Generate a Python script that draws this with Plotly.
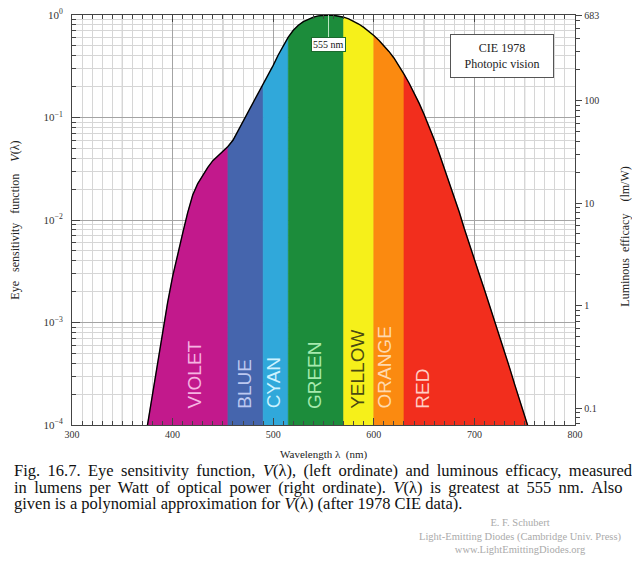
import math
import plotly.graph_objects as go

# ---------------- data ----------------
WAVELENGTH = [370, 375, 380, 385, 390, 395, 400, 405, 410, 415, 420, 425, 430, 435, 440, 445,
              450, 455, 460, 465, 470, 475, 480, 485, 490, 495, 500, 505, 510, 515, 520, 525,
              530, 535, 540, 545, 550, 555, 560, 565, 570, 575, 580, 585, 590, 595, 600, 605,
              610, 615, 620, 625, 630, 635, 640, 645, 650, 655, 660, 665, 670, 675, 680, 685,
              690, 695, 700, 705, 710, 715, 720, 725, 730, 735, 740, 745, 750, 755, 760]
V_LAMBDA = [0.00005, 0.0001, 0.0002, 0.000396, 0.0008, 0.00155, 0.0028, 0.00466, 0.0074, 0.0118,
            0.0175, 0.0227, 0.0273, 0.0326, 0.0379, 0.0424, 0.0468, 0.0521, 0.060, 0.0739,
            0.091, 0.1126, 0.139, 0.1693, 0.208, 0.2586, 0.323, 0.4073, 0.503, 0.6082,
            0.71, 0.7932, 0.862, 0.9149, 0.954, 0.9803, 0.995, 1.0, 0.995, 0.9786,
            0.952, 0.9154, 0.87, 0.8163, 0.757, 0.6949, 0.631, 0.5668, 0.503, 0.4412,
            0.381, 0.321, 0.265, 0.217, 0.175, 0.1382, 0.107, 0.0816, 0.061, 0.04458,
            0.032, 0.0232, 0.017, 0.01192, 0.00821, 0.005723, 0.004102, 0.002929, 0.002091, 0.001484,
            0.001047, 0.00074, 0.00052, 0.000361, 0.000249, 0.000172, 0.00012, 0.0000848, 0.00006]
PEAK_EFFICACY = 683  # lm/W

BAND_NAMES = ["VIOLET", "BLUE", "CYAN", "GREEN", "YELLOW", "ORANGE", "RED"]
BAND_EDGES = [370, 455, 490, 515, 570, 600, 630, 760]

X_TICKS = [300, 400, 500, 600, 700, 800]
X_TICK_LABELS = ["300", "400", "500", "600", "700", "800"]
X_HALF_GRID = [350, 450, 550, 650, 750]
Y_TICKS = [1e-4, 1e-3, 1e-2, 1e-1, 1]
Y_TICK_LABELS = ["10<sup>\u22124</sup>", "10<sup>\u22123</sup>", "10<sup>\u22122</sup>",
                 "10<sup>\u22121</sup>", "10<sup>0</sup>"]
Y2_TICKS = [0.1, 1, 10, 100, 683]
Y2_TICK_LABELS = ["0.1", "1", "10", "100", "683"]

CAPTION = [
    "Fig. 16.7. Eye sensitivity function, <i>V</i>(λ), (left ordinate) and luminous efficacy, measured",
    "in lumens per Watt of optical power (right ordinate). <i>V</i>(λ) is greatest at 555 nm. Also",
    "given is a polynomial approximation for <i>V</i>(λ) (after 1978 CIE data).",
]
WATERMARK = ["E. F. Schubert", "Light-Emitting Diodes (Cambridge Univ. Press)",
             "www.LightEmittingDiodes.org"]

# ---------------- styles ----------------
BAND_COLORS = ["#C2198C", "#4565AD", "#30A8DA", "#1C8C3B", "#F6F01A", "#FB8A10", "#F22E1D"]
LABEL_COLORS = ["#F6B4E2", "#BCC8F0", "#CDF2FF", "#A6EAAE", "#4A4A12", "#FFD9AE", "#FFCDC4"]
LABEL_X = [422, 472, 500, 541, 583, 611, 649]

SERIF = "Liberation Serif"
SANS = "Liberation Sans"
AXIS_COLOR = "#444444"
MAJOR_GRID = "#a4a4a4"
MINOR_GRID = "#d6d6d6"

fig = go.Figure()

# coloured bands under the curve
for name, color, a, b in zip(BAND_NAMES, BAND_COLORS, BAND_EDGES[:-1], BAND_EDGES[1:]):
    pts = [(w, v) for w, v in zip(WAVELENGTH, V_LAMBDA) if a <= w <= b]
    xs = [a] + [p[0] for p in pts] + [b]
    ys = [1e-6] + [p[1] for p in pts] + [1e-6]
    fig.add_trace(go.Scatter(x=xs, y=ys, mode="lines", fill="toself", fillcolor=color,
                             line=dict(color=color, width=0.6), hoverinfo="skip",
                             showlegend=False, name=name))

# black outline of V(lambda)
fig.add_trace(go.Scatter(x=WAVELENGTH, y=V_LAMBDA, mode="lines",
                         line=dict(color="black", width=1.4), showlegend=False,
                         name="V(λ)"))

# luminous efficacy on the right ordinate (same curve, scaled)
fig.add_trace(go.Scatter(x=WAVELENGTH, y=[PEAK_EFFICACY * v for v in V_LAMBDA], yaxis="y2",
                         mode="lines", line=dict(color="rgba(0,0,0,0)", width=0),
                         hoverinfo="skip", showlegend=False, name="efficacy"))

# darker grid lines at the half-hundreds
for gx in X_HALF_GRID:
    fig.add_shape(type="line", x0=gx, x1=gx, xref="x", y0=0, y1=1, yref="paper",
                  layer="below", line=dict(color=MAJOR_GRID, width=1))

y_minor = [k * 10 ** n for n in range(-4, 0) for k in range(2, 10)]
y2_minor = [k * 10 ** n for n in range(-2, 3) for k in range(1, 10)
            if 0.0683 < k * 10 ** n < 683 and k * 10 ** n not in Y2_TICKS]

fig.update_layout(
    width=624, height=570,
    margin=dict(l=64, r=57, t=7, b=153, autoexpand=False),
    paper_bgcolor="white", plot_bgcolor="white",
    font=dict(family=SERIF, size=10, color="#222"),
    showlegend=False,
    xaxis=dict(
        range=[300, 800], tickmode="array", tickvals=X_TICKS, ticktext=X_TICK_LABELS,
        ticks="inside", ticklen=7, tickwidth=1, tickcolor=AXIS_COLOR, automargin=False,
        showline=True, linecolor=AXIS_COLOR, linewidth=1, mirror="ticks",
        showgrid=True, gridcolor=MAJOR_GRID, gridwidth=1, zeroline=False,
        ticklabeloverflow="allow",
        tickfont=dict(family=SERIF, size=10, color="#333"),
        minor=dict(tickmode="linear", tick0=300, dtick=10, ticks="inside", ticklen=4,
                   tickcolor=AXIS_COLOR, showgrid=True, gridcolor=MINOR_GRID, gridwidth=1),
    ),
    yaxis=dict(
        type="log", range=[-4, 0], tickmode="array", tickvals=Y_TICKS, ticktext=Y_TICK_LABELS,
        ticks="inside", ticklen=8, tickwidth=1, tickcolor=AXIS_COLOR, automargin=False,
        showline=True, linecolor=AXIS_COLOR, linewidth=1, mirror=True,
        showgrid=True, gridcolor=MAJOR_GRID, gridwidth=1, zeroline=False,
        ticklabelstandoff=6, ticklabeloverflow="allow",
        tickfont=dict(family=SERIF, size=11, color="#333"),
        minor=dict(tickmode="array", tickvals=y_minor, ticks="inside", ticklen=4,
                   tickcolor=AXIS_COLOR, showgrid=True, gridcolor=MINOR_GRID, gridwidth=1),
    ),
    yaxis2=dict(
        type="log", overlaying="y", side="right", automargin=False,
        range=[math.log10(PEAK_EFFICACY * 1e-4), math.log10(PEAK_EFFICACY)],
        tickmode="array", tickvals=Y2_TICKS, ticktext=Y2_TICK_LABELS,
        ticks="outside", ticklen=6, tickwidth=1, tickcolor=AXIS_COLOR,
        showline=True, linecolor=AXIS_COLOR, linewidth=1.3, showgrid=False, zeroline=False,
        ticklabeloverflow="allow",
        tickfont=dict(family=SERIF, size=10, color="#333"),
        minor=dict(tickmode="array", tickvals=y2_minor, ticks="outside", ticklen=4,
                   tickcolor=AXIS_COLOR, showgrid=False),
    ),
)

ann = []
# band labels
for name, lx, lc in zip(BAND_NAMES, LABEL_X, LABEL_COLORS):
    ann.append(dict(x=lx, xref="x", y=0.035, yref="paper", text=name, textangle=-90,
                    showarrow=False, xanchor="center", yanchor="bottom",
                    font=dict(family=SANS, size=19, color=lc)))

# 555 nm marker
fig.add_shape(type="line", x0=555, x1=555, xref="x", y0=0.93, y1=1.0, yref="paper",
              line=dict(color="rgba(230,255,230,0.8)", width=1))
ann.append(dict(x=555, xref="x", y=0.929, yref="paper", text="555 nm", showarrow=False,
                xanchor="center", yanchor="middle", bgcolor="white",
                bordercolor="#1C6A2E", borderwidth=1, borderpad=1,
                font=dict(family=SERIF, size=10, color="#111")))

# legend box
ann.append(dict(x=727, xref="x", y=0.9, yref="paper", text="CIE 1978<br>Photopic vision",
                showarrow=False, xanchor="center", yanchor="middle", bgcolor="white",
                bordercolor="#555", borderwidth=1, borderpad=5, width=92, height=32,
                font=dict(family=SERIF, size=12, color="#222")))

# axis titles
ann.append(dict(x=0.5, xref="paper", y=-0.073, yref="paper", text="Wavelength λ  (nm)",
                showarrow=False, xanchor="center", yanchor="middle",
                font=dict(family=SERIF, size=11, color="#222")))
ann.append(dict(x=-0.114, xref="paper", y=0.5, yref="paper",
                text="Eye   sensitivity   function    <i>V</i>(λ)", textangle=-90,
                showarrow=False, xanchor="center", yanchor="middle",
                font=dict(family=SERIF, size=12, color="#222")))
ann.append(dict(x=1.1, xref="paper", y=0.46, yref="paper",
                text="Luminous  efficacy    (lm/W)", textangle=-90,
                showarrow=False, xanchor="center", yanchor="middle",
                font=dict(family=SERIF, size=12, color="#222")))

# caption: justified look by slightly widening the gaps of the first two lines
def spread(line):
    return line.replace(" ", " \u2009").replace("<i \u2009", "<i ")

cap_lines = [spread(CAPTION[0]), spread(CAPTION[1]), CAPTION[2]]
cap_text = "<br>".join('<span style="font-size:16.5px">' + ln + "</span>" for ln in cap_lines)
ann.append(dict(x=-0.119, xref="paper", y=-0.151, yref="paper", text=cap_text,
                showarrow=False, xanchor="left", yanchor="middle", align="left",
                font=dict(family=SERIF, size=12.7, color="#111")))

wm_text = "<br>".join(WATERMARK)
ann.append(dict(x=0.891, xref="paper", y=-0.27, yref="paper", text=wm_text,
                showarrow=False, xanchor="center", yanchor="middle", align="center",
                font=dict(family=SERIF, size=10.5, color="#aaaaaa")))

fig.update_layout(annotations=ann)
fig.write_html("out.html")
